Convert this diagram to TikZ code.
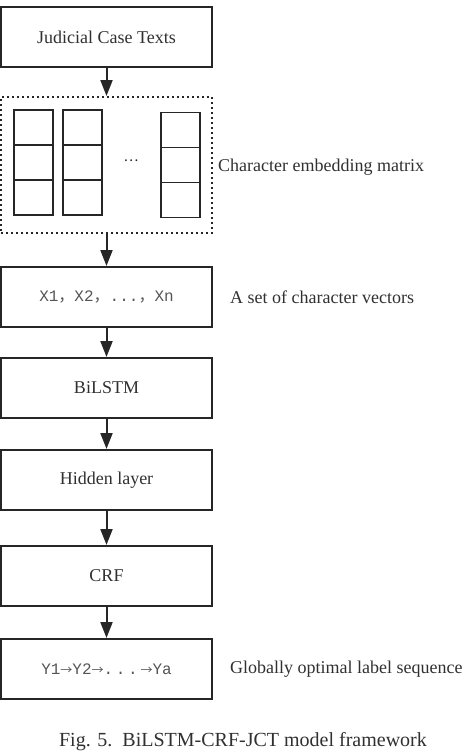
\documentclass[tikz,border=0pt]{standalone}
\usepackage{fontspec}
\setmainfont{Liberation Serif}
\newfontfamily\monoA{Liberation Mono}
\newfontfamily\cjk{Noto Sans CJK SC}
\usetikzlibrary{arrows.meta}
\definecolor{ink}{HTML}{262626}
\definecolor{txt}{HTML}{303030}
\definecolor{mono}{HTML}{555555}
\tikzset{
  blk/.style={draw=ink, line width=2pt, minimum width=211pt, minimum height=60pt,
    inner sep=0pt, font=\fontsize{18}{20}\selectfont, text=txt},
  embbox/.style={draw=ink, line width=2pt, dash pattern=on 2pt off 3pt,
    minimum width=211pt, minimum height=136pt, inner sep=0pt},
  cell/.style={draw=ink, line width=1.8pt, minimum width=39pt, minimum height=35pt, inner sep=0pt},
  arr/.style={draw=ink, line width=2pt, -{Triangle[width=12pt,length=16pt]}},
  lbl/.style={anchor=west, inner sep=0pt, font=\fontsize{18}{20}\selectfont, text=txt},
  monotxt/.style={font=\monoA\fontsize{16}{18}\selectfont, text=mono},
}
\begin{document}
\begin{tikzpicture}[x=1pt,y=-1pt]
\useasboundingbox (0,0) rectangle (474,753);
\node[blk] (b1) at (106.5,37) {Judicial Case Texts};
\node[embbox] (emb) at (106.5,165) {};
% embedding columns
\node[cell] (c1a) at (33.5,127.5) {};
\node[cell] (c1b) at (33.5,162.5) {};
\node[cell] (c1c) at (33.5,197.5) {};
\node[cell] (c2a) at (82.5,127.5) {};
\node[cell] (c2b) at (82.5,162.5) {};
\node[cell] (c2c) at (82.5,197.5) {};
\node[cell] (c3a) at (180.5,130) {};
\node[cell] (c3b) at (180.5,165) {};
\node[cell] (c3c) at (180.5,200) {};
\node[text=ink, inner sep=0pt, font=\cjk\fontsize{14}{16}\selectfont] (dots) at (131,161) {…};
\node[lbl] (lemb) at (218,167) {Character embedding matrix};
\node[blk, monotxt] (b2) at (106.5,297) {X1{\cjk ，}X2{\cjk ，}...{\cjk ，}Xn};
\node[lbl] (l2) at (230,297) {A set of character vectors};
\node[blk] (b3) at (106.5,388) {BiLSTM};
\node[blk] (b4) at (106.5,480) {Hidden layer};
\node[blk] (b5) at (106.5,576) {CRF};
\node[blk, monotxt] (b6) at (106.5,669) {Y1{\cjk\fontsize{12}{14}\selectfont →}Y2{\cjk\fontsize{12}{14}\selectfont →}.\,.\,.\,{\cjk\fontsize{12}{14}\selectfont →}Ya};
\node[lbl] (l6) at (230,669) {Globally optimal label sequence};
\node[text=txt, font=\fontsize{20}{22}\selectfont, inner sep=0pt] (cap) at (243,742) {Fig. 5.\ \ BiLSTM-CRF-JCT model framework};
\draw[arr] (b1) -- (emb);
\draw[arr] (emb) -- (b2);
\draw[arr] (b2) -- (b3);
\draw[arr] (b3) -- (b4);
\draw[arr] (b4) -- (b5);
\draw[arr] (b5) -- (b6);
\end{tikzpicture}
\end{document}
